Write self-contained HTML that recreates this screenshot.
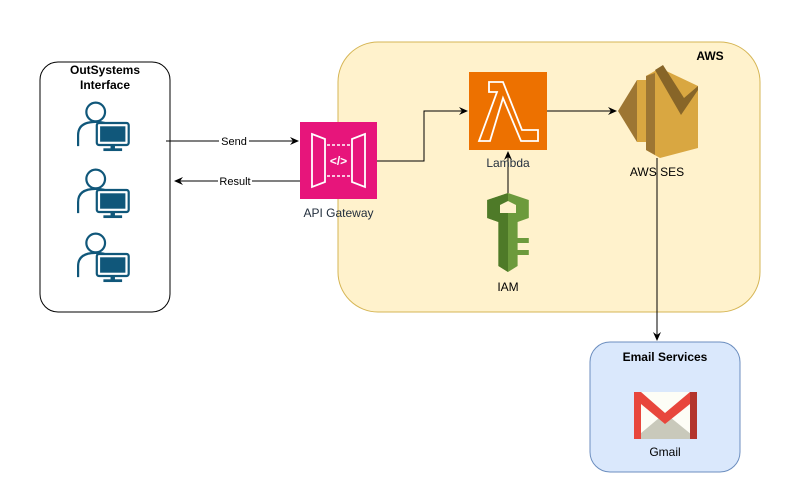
<!DOCTYPE html>
<html><head><meta charset="utf-8"><style>body{margin:0;background:#fff}svg{display:block;font-family:"Liberation Sans",Arial,sans-serif}</style></head><body>
<svg width="804" height="503" viewBox="0 0 804 503" xmlns="http://www.w3.org/2000/svg">
<defs><marker id="a" markerWidth="10" markerHeight="10" refX="8" refY="5" orient="auto" markerUnits="userSpaceOnUse"><path d="M0,1 L9,5 L0,9 L3,5 Z" fill="#000"/></marker>
<g id="u"><circle cx="17" cy="10" r="8.5" fill="#fff" stroke="#10577a" stroke-width="2"/><path d="M1,41 L1,31 Q1,19 17,19 Q33,19 33,31" fill="#fff" stroke="#10577a" stroke-width="2"/><rect x="18" y="20" width="29" height="20" rx="2" fill="#fff" stroke="#10577a" stroke-width="2"/><rect x="21" y="23" width="23" height="14" fill="#10577a"/><rect x="30.5" y="40" width="4" height="4" fill="#10577a"/><rect x="24" y="43" width="17" height="2.5" fill="#10577a"/></g></defs>
<rect x="338" y="42" width="422" height="270" rx="40" fill="#fff2cc" stroke="#d6b656"/>
<text x="710" y="60" font-size="12" font-weight="bold" text-anchor="middle">AWS</text>
<rect x="40" y="62" width="130" height="250" rx="18" fill="#fff" stroke="#000"/>
<text x="105" y="74" font-size="12" font-weight="bold" text-anchor="middle">OutSystems</text>
<text x="105" y="89" font-size="12" font-weight="bold" text-anchor="middle">Interface</text>
<g transform="translate(77,101) scale(1.1)"><use href="#u"/></g>
<g transform="translate(77,168) scale(1.1)"><use href="#u"/></g>
<g transform="translate(77,232) scale(1.1)"><use href="#u"/></g>
<rect x="590" y="342" width="150" height="130" rx="20" fill="#dae8fc" stroke="#6c8ebf"/>
<text x="665" y="361" font-size="12" font-weight="bold" text-anchor="middle">Email Services</text>
<line x1="166" y1="141" x2="298" y2="141" stroke="#000" marker-end="url(#a)"/>
<rect x="219" y="134" width="30" height="13" fill="#fff"/><text x="234" y="145" font-size="11" text-anchor="middle">Send</text>
<line x1="300" y1="181" x2="175" y2="181" stroke="#000" marker-end="url(#a)"/>
<rect x="218" y="174" width="34" height="13" fill="#fff"/><text x="235" y="185" font-size="11" text-anchor="middle">Result</text>
<path d="M377,161 H424 V111 H467" fill="none" stroke="#000" marker-end="url(#a)"/>
<line x1="547" y1="111" x2="616" y2="111" stroke="#000" marker-end="url(#a)"/>
<line x1="508" y1="193" x2="508" y2="152" stroke="#000" marker-end="url(#a)"/>
<line x1="657" y1="158" x2="657" y2="340" stroke="#000" marker-end="url(#a)"/>
<rect x="300" y="122" width="77" height="77" fill="#e7157b"/>
<path d="M312,134 L325,139 V182 L312,187 Z M365,134 L352,139 V182 L365,187 Z" fill="none" stroke="#fff" stroke-width="1.8"/>
<path d="M327,145 H350 M327,176 H350" stroke="#fff" stroke-width="1.5" stroke-dasharray="3,2"/>
<text x="338.5" y="165" font-size="12" fill="#fff" text-anchor="middle" font-weight="bold">&lt;/&gt;</text>
<text x="338.5" y="217" font-size="12" fill="#232f3e" text-anchor="middle">API Gateway</text>
<rect x="469" y="72" width="78" height="78" fill="#ed7100"/>
<path d="M489,82 H503 L522,130 H538 V141 H521 L503,98 L490,141 H479 L497,92 L489,92 Z" fill="none" stroke="#fff" stroke-width="1.8"/>
<text x="508" y="167" font-size="12" fill="#232f3e" text-anchor="middle">Lambda</text>
<polygon points="618,111 637,80 646,80 646,142 637,142" fill="#9d7633"/>
<polygon points="637,80 646,80 646,142 637,142" fill="#d9a741"/>
<polygon points="646,76 660,68 698,86 698,148 660,158 646,150" fill="#d9a741"/>
<polygon points="646,76 655,73 655,155 646,150" fill="#9d7633"/>
<polygon points="655,70 663,65 684,98 698,86 698,90 681,115" fill="#876528"/>
<text x="657" y="176" font-size="12" text-anchor="middle">AWS SES</text>
<g transform="translate(508,0) scale(1.6,1) translate(-508,0)">
<path d="M508,193 L521,200 V218 L514,222 V238 H521 V243 H514 V250 H521 V255 H514 V266 L508,272 L502,266 V222 L495,218 V200 Z" fill="#6c9a3c"/>
<path d="M508,193 L495,200 V218 L502,222 V266 L508,272 Z" fill="#4e7a28"/>
<polygon points="503,205 508,201 513,205 513,213 503,213" fill="#fff2cc"/>
</g>
<text x="508" y="291" font-size="12" text-anchor="middle">IAM</text>
<rect x="634" y="392" width="63" height="47" fill="#fdfdf6"/>
<polygon points="634,439 665,413 697,439" fill="#c9c9bb"/>
<polygon points="634,392 641,392 665,413 690,392 697,392 697,439 690,439 690,404 665,424 641,404 641,439 634,439" fill="#e8463c"/>
<rect x="690" y="392" width="7" height="47" fill="#b3342c"/>
<text x="665" y="456" font-size="12" text-anchor="middle">Gmail</text>
</svg>
</body></html>
